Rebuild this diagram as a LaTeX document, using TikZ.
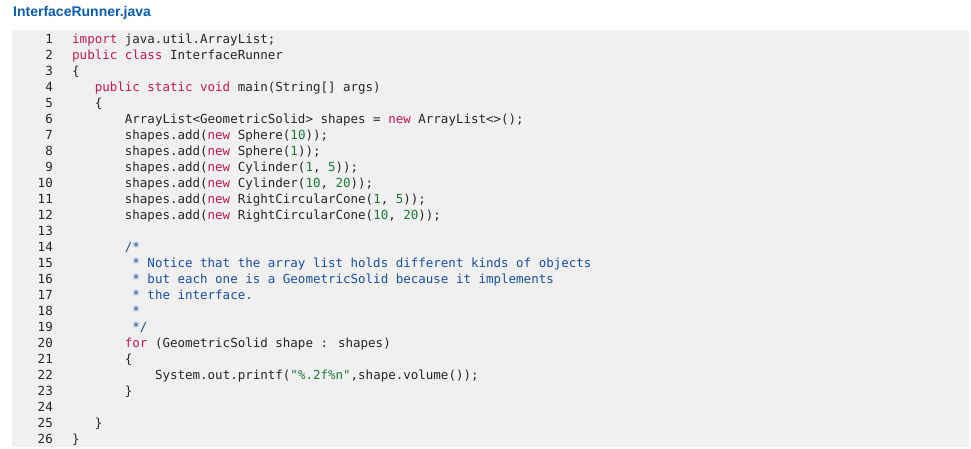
\documentclass[tikz,border=0pt]{standalone}
\usepackage{fontspec}
\setmainfont{Liberation Sans}
\newfontfamily\codefont{DejaVu Sans Mono}
\definecolor{kwc}{HTML}{C41A4A}
\definecolor{nmc}{HTML}{1B7A3A}
\definecolor{cmc}{HTML}{1A4FA0}
\definecolor{ttl}{HTML}{0B5CAD}
\definecolor{bgc}{HTML}{F0F0F0}
\newcommand{\kw}[1]{\textcolor{kwc}{#1}}
\newcommand{\nm}[1]{\textcolor{nmc}{#1}}
\newcommand{\cm}[1]{\textcolor{cmc}{#1}}
\tikzset{code/.style={anchor=base west,inner sep=0pt,font=\codefont\fontsize{12.5}{14}\selectfont,text=black!85},
lnum/.style={anchor=base east,inner sep=0pt,font=\codefont\fontsize{12.5}{14}\selectfont,text=black!85}}
\begin{document}
\begin{tikzpicture}[x=1pt,y=-1pt]
\useasboundingbox (0,0) rectangle (971,449);
\fill[bgc] (12,30) rectangle (969,447);
\node[anchor=base west,inner sep=0pt,font=\bfseries\fontsize{14}{16}\selectfont,text=ttl] (title) at (13,17) {InterfaceRunner.java};
\foreach \n/\k/\t [count=\i] in {
1/0/{\kw{import} java.util.ArrayList;},
2/0/{\kw{public} \kw{class} InterfaceRunner},
3/0/{\{},
4/3/{\kw{public} \kw{static} \kw{void} main(String[] args)},
5/3/{\{},
6/7/{ArrayList<GeometricSolid> shapes = \kw{new} ArrayList<>();},
7/7/{shapes.add(\kw{new} Sphere(\nm{10}));},
8/7/{shapes.add(\kw{new} Sphere(\nm{1}));},
9/7/{shapes.add(\kw{new} Cylinder(\nm{1}, \nm{5}));},
10/7/{shapes.add(\kw{new} Cylinder(\nm{10}, \nm{20}));},
11/7/{shapes.add(\kw{new} RightCircularCone(\nm{1}, \nm{5}));},
12/7/{shapes.add(\kw{new} RightCircularCone(\nm{10}, \nm{20}));},
13/7/{},
14/7/{\cm{/*}},
15/8/{\cm{* Notice that the array list holds different kinds of objects}},
16/8/{\cm{* but each one is a GeometricSolid because it implements}},
17/8/{\cm{* the interface.}},
18/8/{\cm{*}},
19/8/{\cm{*/}},
20/7/{\kw{for} (GeometricSolid shape : shapes)},
21/7/{\{},
22/11/{System.out.printf(\nm{"\%.2f\%n"},shape.volume());},
23/7/{\}},
24/7/{},
25/3/{\}},
26/0/{\}}}{
  \node[lnum] (n\n) at (53,{44+(\n-1)*15.96}) {\n};
  \node[code] (c\n) at ({72+\k*7.53},{44+(\n-1)*15.96}) {\strut\t};
}
\end{tikzpicture}
\end{document}
